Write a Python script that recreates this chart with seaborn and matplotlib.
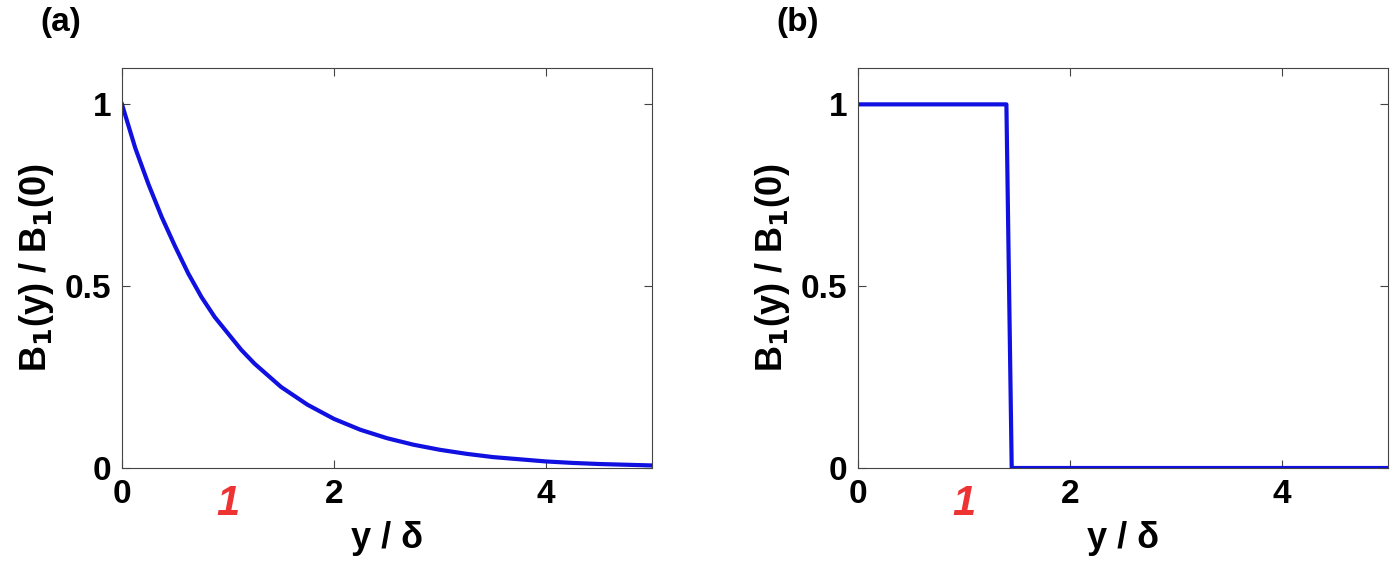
import matplotlib
matplotlib.use("Agg")
import matplotlib.pyplot as plt
import seaborn as sns
import pandas as pd

plt.rcParams["font.family"] = "Liberation Sans"

# panel (a): values
ya = [0, 0.125, 0.25, 0.375, 0.5, 0.625, 0.75, 0.875, 1.0, 1.125, 1.25, 1.5, 1.75, 2.0, 2.25, 2.5, 2.75, 3.0, 3.25, 3.5, 3.75, 4.0, 4.25, 4.5, 4.75, 5.0]
ba = [1.0, 0.88, 0.78, 0.69, 0.61, 0.535, 0.47, 0.415, 0.37, 0.325, 0.287, 0.223, 0.174, 0.135, 0.105, 0.082, 0.064, 0.05, 0.039, 0.03, 0.024, 0.018, 0.014, 0.011, 0.009, 0.007]
# panel (b)
yb = [0, 1.4, 1.45, 5.0]
bb = [1.0, 1.0, 0.0, 0.0]

xticks = [0, 2, 4]
yticks = [0, 0.5, 1]
ytick_labels = ["0", "0.5", "1"]

fig = plt.figure(figsize=(14, 5.74), dpi=100)
axes = [fig.add_axes([122/1400, 1-468/574, 530/1400, 400/574]),
        fig.add_axes([858/1400, 1-468/574, 530/1400, 400/574])]
data = [(ya, ba), (yb, bb)]
for ax, (x, y), lab, lx in zip(axes, data, ["(a)", "(b)"], [40, 776]):
    df = pd.DataFrame({"x": x, "y": y})
    sns.lineplot(data=df, x="x", y="y", ax=ax, color="#1010e0", lw=3, sort=False)
    ax.set_xlim(0, 5)
    ax.set_ylim(0, 1.1)
    ax.set_xticks(xticks)
    ax.set_xticklabels([str(t) for t in xticks], fontsize=24, fontweight="bold")
    ax.set_yticks(yticks)
    ax.set_yticklabels(ytick_labels, fontsize=24, fontweight="bold")
    ax.tick_params(direction="in", top=True, right=True, length=6, color="#444444", pad=8)
    ax.text(1, -0.04, "1", transform=ax.get_xaxis_transform(), color="#ee3333",
            fontsize=30, fontweight="bold", fontstyle="italic", ha="center", va="top")
    ax.set_xlabel("y / δ", fontsize=26, fontweight="bold", labelpad=8)
    ax.set_ylabel("B$_\\mathbf{1}$(y) / B$_\\mathbf{1}$(0)", fontsize=26, fontweight="bold", labelpad=6)
    for s in ax.spines.values():
        s.set_color("#444444")
    fig.text(lx/1400, 1-22/574, lab, fontsize=24, fontweight="bold", va="center")
fig.savefig("out.png", dpi=100)
